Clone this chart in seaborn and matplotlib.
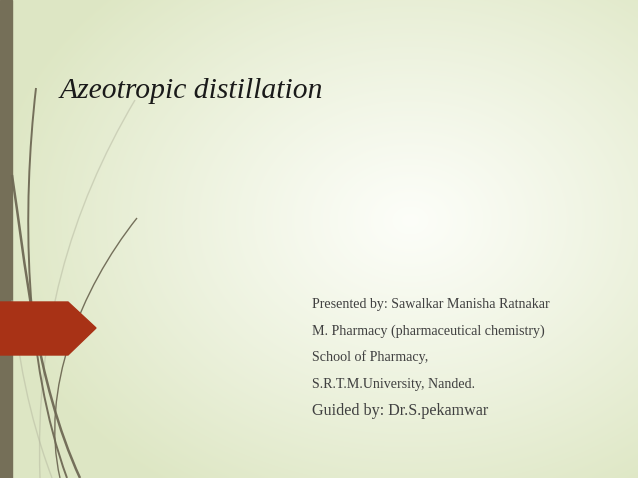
import numpy as np
import seaborn as sns
import matplotlib.pyplot as plt
from matplotlib.path import Path
from matplotlib.patches import PathPatch, Polygon, Rectangle

# slide texts
title = "Azeotropic distillation"
body_lines = [
    "Presented by: Sawalkar Manisha Ratnakar",
    "M. Pharmacy (pharmaceutical chemistry)",
    "School of Pharmacy,",
    "S.R.T.M.University, Nanded.",
    "Guided by: Dr.S.pekamwar",
]
body_y = [308, 335, 361, 388, 415]
body_size = [10.1, 10.1, 10.1, 10.1, 11.6]

# decorative wisp curves (cubic bezier control points, slide pixels)
dark_curves = [
    [(12, 175), (25, 260), (35, 380), (80, 478)],
    [(36, 88), (22, 210), (24, 360), (67, 478)],
    [(137, 218), (80, 290), (40, 390), (60, 478)],
]
faint_curves = [
    [(135, 100), (70, 210), (35, 330), (40, 478)],
    [(12, 300), (22, 390), (38, 440), (52, 478)],
]

W, H = 638, 478

sns.set_theme(style="white")
fig = plt.figure(figsize=(W / 100, H / 100), dpi=100)
ax = fig.add_axes([0, 0, 1, 1])
ax.set_xlim(0, W)
ax.set_ylim(H, 0)
ax.axis("off")

# soft radial background
yy, xx = np.mgrid[0:H, 0:W]
t = np.sqrt(((xx - 410) / 420.0) ** 2 + ((yy - 220) / 320.0) ** 2)
t = np.clip(t, 0, 1) ** 1.1
inner = np.array([0.99, 0.995, 0.975])
outer = np.array([0.87, 0.905, 0.77])
bg = inner[None, None, :] * (1 - t[..., None]) + outer[None, None, :] * t[..., None]
ax.imshow(bg, extent=[0, W, H, 0], zorder=0, aspect="auto")

# left bar
ax.add_patch(Rectangle((0, 0), 12, H, color="#756f58", zorder=1))

def bezier(pts, color, lw, alpha):
    p = Path(pts, [Path.MOVETO, Path.CURVE4, Path.CURVE4, Path.CURVE4])
    ax.add_patch(PathPatch(p, fc="none", ec=color, lw=lw, alpha=alpha, zorder=2))

for c in faint_curves:
    bezier(c, "#b4b79f", 1.0, 0.5)
for c, lw in zip(dark_curves, [1.8, 1.4, 1.0]):
    bezier(c, "#6e6954", lw, 0.95)

# red arrow tab
ax.add_patch(Polygon([(0, 302), (68, 302), (96, 328), (68, 355), (0, 355)],
                     closed=True, color="#a83216", zorder=3))

ax.text(60, 98, title, fontsize=21.3, family="Liberation Serif", style="italic",
        color="#1a1a1a", va="baseline", ha="left", zorder=4)

for txt, y, fs in zip(body_lines, body_y, body_size):
    ax.text(312, y, txt, fontsize=fs, family="Liberation Serif",
            color="#404040", va="baseline", ha="left", zorder=4)

fig.savefig("out.png", dpi=100)
